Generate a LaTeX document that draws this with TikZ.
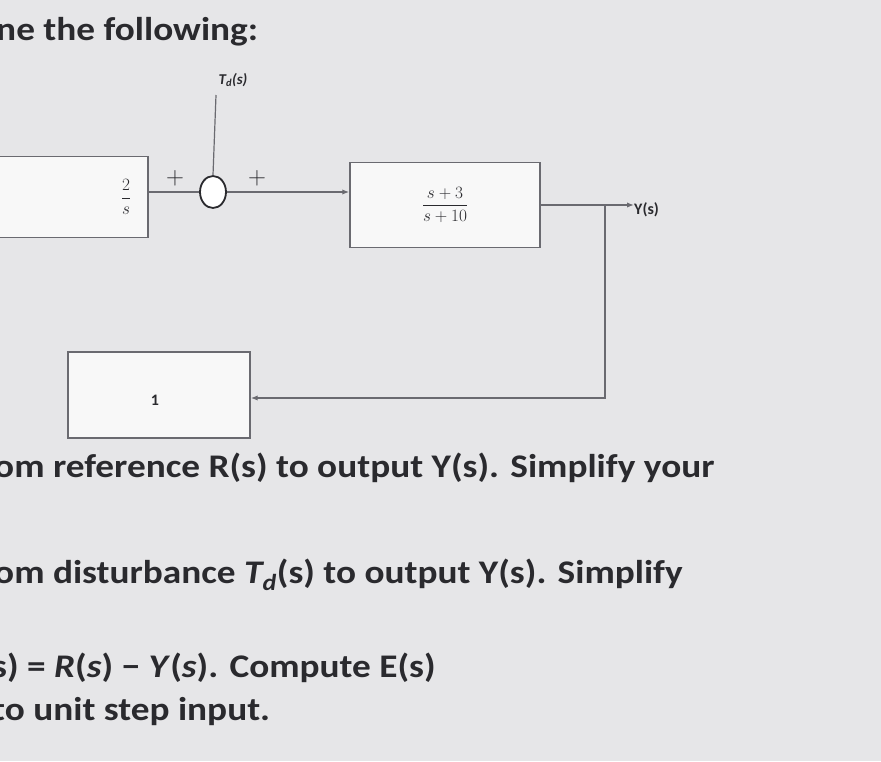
\documentclass[tikz,border=0pt]{standalone}
\usepackage{fontspec}
\setmainfont{Carlito}
\usetikzlibrary{arrows.meta,shapes.geometric}
\definecolor{bg}{HTML}{E6E6E8}
\definecolor{ink}{HTML}{2A2A2E}
\definecolor{ln}{HTML}{6A6A70}
\begin{document}
\begin{tikzpicture}[x=1pt,y=-1pt,
  blk/.style={draw=ln,line width=1.4pt,fill=white!70!bg,inner sep=0pt},
  wire/.style={draw=ln,line width=1.2pt},
  big/.style={font=\fontsize{33}{38}\selectfont\bfseries,text=ink,anchor=west,inner sep=0pt,xscale=1.13},
  small/.style={font=\fontsize{16}{18}\selectfont\bfseries,text=ink,inner sep=0pt}]
\useasboundingbox (0,0) rectangle (881,761);
\clip (0,0) rectangle (881,761);
\fill[bg] (0,0) rectangle (881,761);
\node[big] (t0) at (-4,32) {ne the following:};
\node[small,font=\fontsize{15}{17}\selectfont\itshape\bfseries] (td) at (233,80) {T\textsubscript{d}(s)};
% blocks
\node[blk,minimum width=160pt,minimum height=81pt] (g1) at (68,197) {};
\node[small] (g1t) at (126,197) {$\displaystyle\frac{2}{s}$};
\node[blk,minimum width=190pt,minimum height=85pt] (g2) at (445,205) {};
\node[small] (g2t) at (445,205) {$\displaystyle\frac{s+3}{s+10}$};
\node[blk,minimum width=182pt,minimum height=86pt] (h) at (159,395) {};
\node[small] (ht) at (155,400) {1};
% summing junction
\node[draw=ink,line width=1.8pt,ellipse,minimum width=26pt,minimum height=32pt,inner sep=0pt,fill=white] (sum) at (213,192) {};
\node[small,font=\fontsize{26}{28}\selectfont] (p1) at (175,178) {$+$};
\node[small,font=\fontsize{26}{28}\selectfont] (p2) at (257,178) {$+$};
\coordinate (tdtop) at (216,95);
\draw[wire] (tdtop) -- (sum.north);
\draw[wire] (g1.east |- sum) -- (sum.west);
\draw[wire,-{Latex[length=7pt]}] (sum.east) -- (g2.west |- sum.east);
\coordinate (br) at (605,205);
\coordinate (yo) at (634,205);
\draw[wire,-{Latex[length=7pt]}] (g2.east) -- (yo);
\node[small,anchor=west] (y) at (634,210) {Y(s)};
\coordinate (bd) at (605,398);
\draw[wire,-{Latex[length=7pt]}] (br) -- (bd) -- (h.east |- bd);
% text
\node[big] (l1) at (-6,468) {om reference R(s) to output Y(s). Simplify your};
\node[big] (l2) at (-6,575) {om disturbance \textit{T\textsubscript{d}}(s) to output Y(s). Simplify};
\node[big] (l3) at (-8,668) {s) = \textit{R}(\textit{s}) − \textit{Y}(\textit{s}). Compute E(s)};
\node[big] (l4) at (-8,712) {to unit step input.};
\end{tikzpicture}
\end{document}
